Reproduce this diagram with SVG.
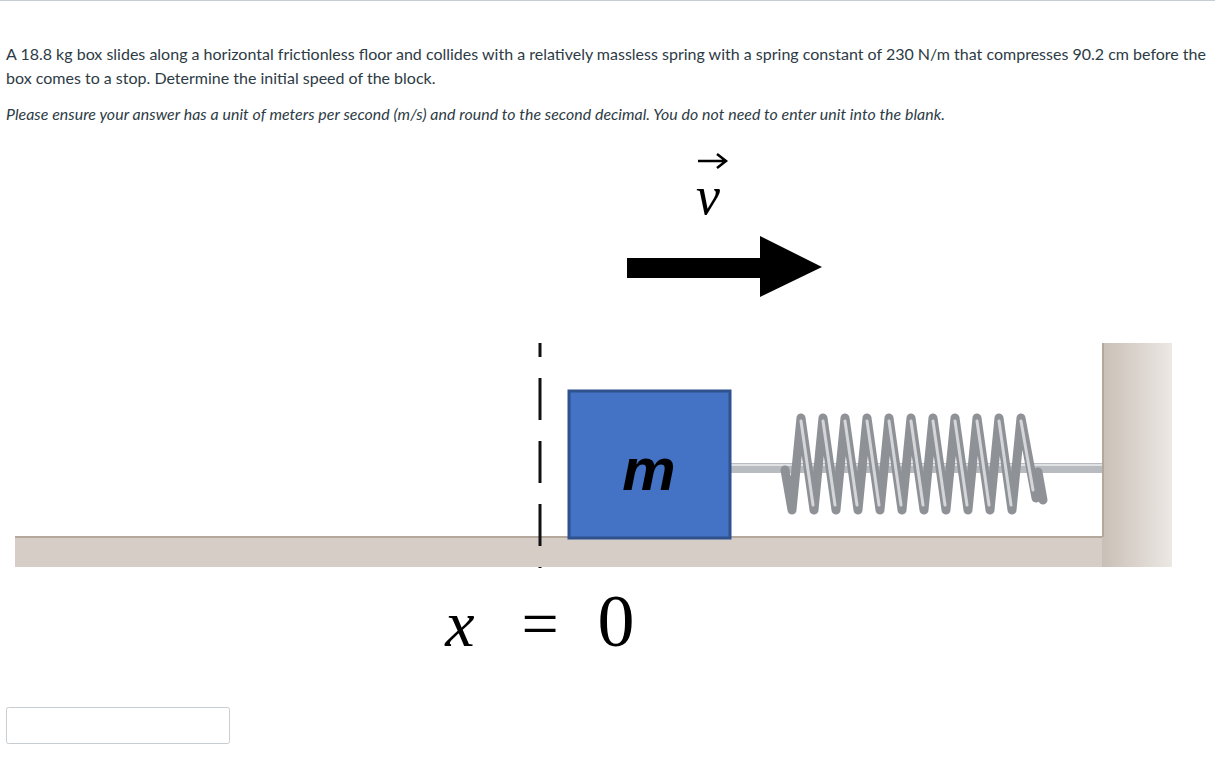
<svg xmlns="http://www.w3.org/2000/svg" width="1215" height="761" viewBox="0 0 1215 761">
<style>
.t{font-family:Lato,"Liberation Sans",sans-serif;font-size:16px;fill:#2d3b45}
.i{font-family:Lato,"Liberation Sans",sans-serif;font-size:15.9px;font-style:italic;fill:#2d3b45}
.coil{fill:none;stroke:#8e9297;stroke-width:9;stroke-linecap:round}
.coilh{fill:none;stroke:#d4d6d9;stroke-width:3;stroke-linecap:round}
.m{font-family:'Liberation Serif',serif;fill:#000}
</style>
<defs>
<linearGradient id="wall" x1="0" x2="1"><stop offset="0" stop-color="#c9bfb6"/><stop offset="1" stop-color="#ece8e4"/></linearGradient>
</defs>
<rect width="1215" height="761" fill="#fff"/>
<line x1="0" y1="0.5" x2="1215" y2="0.5" stroke="#c7cdd1"/>
<text class="t" x="6" y="60" textLength="1200">A 18.8 kg box slides along a horizontal frictionless floor and collides with a relatively massless spring with a spring constant of 230 N/m that compresses 90.2 cm before the</text>
<text class="t" x="6" y="84">box comes to a stop. Determine the initial speed of the block.</text>
<text class="i" x="6" y="120" textLength="939">Please ensure your answer has a unit of meters per second (m/s) and round to the second decimal. You do not need to enter unit into the blank.</text>
<g id="floor">
<rect x="15" y="536" width="1157" height="31" fill="#d6cdc7"/>
<line x1="15" y1="537" x2="1102" y2="537" stroke="#b4a79b" stroke-width="2"/>
<rect x="1102" y="343" width="70" height="224" fill="url(#wall)"/>
<line x1="1103" y1="343" x2="1103" y2="537" stroke="#b4a79b" stroke-width="2"/>
</g>
<g id="dashline"><line x1="540" y1="343" x2="540" y2="568" stroke="#111" stroke-width="3" stroke-dasharray="14,21,42,21,42,21,42,21"/></g>
<g id="spring">
<rect x="730" y="463" width="372" height="10" fill="#b8bbbf"/>
<line x1="730" y1="465" x2="1102" y2="465" stroke="#e0e2e4" stroke-width="2"/>
<path class="coil" d="M785 470 L792 510 M1038 472 L1043 500 M792 510 L801 418 M814 510 L823 418 M836 510 L845 418 M858 510 L867 418 M880 510 L889 418 M902 510 L911 418 M924 510 L933 418 M946 510 L955 418 M968 510 L977 418 M990 510 L999 418 M1012 510 L1021 418 M801 418 L814 510 M823 418 L836 510 M845 418 L858 510 M867 418 L880 510 M889 418 L902 510 M911 418 L924 510 M933 418 L946 510 M955 418 L968 510 M977 418 L990 510 M999 418 L1012 510 M1021 418 L1036 498"/>
<path class="coilh" d="M801 421 L813 505 M823 421 L835 505 M845 421 L857 505 M867 421 L879 505 M889 421 L901 505 M911 421 L923 505 M933 421 L945 505 M955 421 L967 505 M977 421 L989 505 M999 421 L1011 505 M1021 421 L1033 490"/>
</g>
<g id="block">
<rect x="569" y="391" width="161" height="147" fill="#4472c4" stroke="#2f528f" stroke-width="3"/>
<text x="649" y="490" text-anchor="middle" font-family="'Liberation Sans',sans-serif" font-weight="bold" font-style="italic" font-size="60" fill="#000">m</text>
</g>
<g id="arrow">
<polygon points="627,258 760,258 760,236 822,267 760,297 760,278 627,278" fill="#000"/>
<text class="m" x="708" y="214" text-anchor="middle" font-style="italic" font-size="54">v</text>
<path d="M698 161 L725 161 M717 154 L726 161 L717 168" fill="none" stroke="#000" stroke-width="2.5"/>
</g>
<text class="m" x="460" y="646" text-anchor="middle" font-style="italic" font-size="66">x</text>
<text class="m" x="540" y="646" text-anchor="middle" font-size="66">=</text>
<text class="m" x="616" y="646" text-anchor="middle" font-size="74">0</text>
<rect x="6.5" y="707.5" width="223" height="36" rx="2" fill="#fff" stroke="#c7cdd1"/>
</svg>
